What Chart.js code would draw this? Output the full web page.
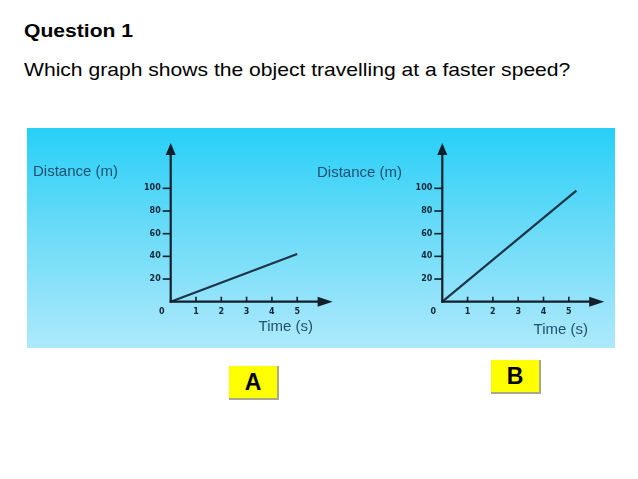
<!DOCTYPE html>
<html>
<head>
<meta charset="utf-8">
<script src="https://cdn.jsdelivr.net/npm/chart.js@4.4.0/dist/chart.umd.min.js"></script>
<style>
  body { margin: 0; width: 638px; height: 479px; background: #fff; position: relative; overflow: hidden;
         font-family: Arial, "Liberation Sans", sans-serif; }
  .txt { position: absolute; left: 24px; font-size: 18.5px; line-height: 20px; color: #000;
         white-space: nowrap; transform: scaleX(1.14); transform-origin: left top; }
  #q1 { top: 21px; font-weight: bold; }
  #q2 { top: 60px; }
  #panel { position: absolute; left: 27px; top: 128px; width: 588px; height: 220px;
           background: linear-gradient(to bottom, #27cff7 0%, #6fdcf8 50%, #aee9fb 100%); }
  #panel canvas { position: absolute; left: 0; top: 0; }
  .box { position: absolute; width: 48px; height: 32px; background: #ffff00;
         border-right: 2px solid #a9a98c; border-bottom: 2px solid #a9a98c;
         font-weight: bold; font-size: 23px; line-height: 32px; text-align: center; color: #000; }
</style>
</head>
<body>
<div class="txt" id="q1">Question 1</div>
<div class="txt" id="q2">Which graph shows the object travelling at a faster speed?</div>
<div id="panel">
  <div style="position:absolute;left:0;top:0;width:588px;height:220px"><canvas id="chartA"></canvas></div>
  <div style="position:absolute;left:0;top:0;width:588px;height:220px"><canvas id="chartB"></canvas></div>
</div>
<div class="box" style="left:229px;top:366px">A</div>
<div class="box" style="left:491px;top:360px">B</div>

<script>
const timeTicks = [1, 2, 3, 4, 5];
const distTicks = [20, 40, 60, 80, 100];
const timeA = [0, 5];
const distA = [0, 42];
const timeB = [0, 5.3];
const distB = [0, 98];
const xTitle = "Time (s)";
const yTitle = "Distance (m)";

const axisColor = "#121e2a";
const labelColor = "#24506f";

// draws the arrowed axes, ticks and titles off the chart's own scales
const axesPlugin = {
  id: "arrowAxes",
  afterDatasetsDraw(chart, args, opts) {
    const ctx = chart.ctx;
    const xs = chart.scales.x;
    const ys = chart.scales.y;
    const area = chart.chartArea;
    const x0 = xs.getPixelForValue(0);
    const y0 = ys.getPixelForValue(0);

    ctx.save();
    ctx.strokeStyle = axisColor;
    ctx.fillStyle = axisColor;
    ctx.lineWidth = 2.2;

    // y axis + arrow
    ctx.beginPath();
    ctx.moveTo(x0, y0 + 1);
    ctx.lineTo(x0, area.top + 8);
    ctx.stroke();
    ctx.beginPath();
    ctx.moveTo(x0, area.top);
    ctx.lineTo(x0 - 5, area.top + 12);
    ctx.lineTo(x0 + 5, area.top + 12);
    ctx.closePath();
    ctx.fill();

    // x axis + arrow
    ctx.beginPath();
    ctx.moveTo(x0 - 1, y0);
    ctx.lineTo(area.right - 10, y0);
    ctx.stroke();
    ctx.beginPath();
    ctx.moveTo(area.right, y0);
    ctx.lineTo(area.right - 15, y0 - 5);
    ctx.lineTo(area.right - 15, y0 + 5);
    ctx.closePath();
    ctx.fill();

    // ticks
    ctx.lineWidth = 1.6;
    ctx.font = "bold 8px 'DejaVu Sans', Arial";
    ctx.fillStyle = "#16263a";
    ctx.textBaseline = "middle";
    ctx.textAlign = "right";
    distTicks.forEach((v) => {
      const y = ys.getPixelForValue(v);
      ctx.beginPath();
      ctx.moveTo(x0 - 8, y);
      ctx.lineTo(x0, y);
      ctx.stroke();
      ctx.fillText(String(v), x0 - 10, y);
    });
    ctx.textAlign = "center";
    timeTicks.forEach((t) => {
      const x = xs.getPixelForValue(t);
      ctx.beginPath();
      ctx.moveTo(x, y0 - 5);
      ctx.lineTo(x, y0);
      ctx.stroke();
      ctx.fillText(String(t), x, y0 + 10);
    });
    ctx.fillText("0", x0 - 9, y0 + 10);

    // titles
    ctx.font = "15px Arial, 'Liberation Sans'";
    ctx.fillStyle = labelColor;
    ctx.textAlign = "left";
    ctx.fillText(yTitle, opts.yTitleX, opts.yTitleY);
    ctx.textAlign = "right";
    ctx.fillText(xTitle, opts.xTitleX, opts.xTitleY);
    ctx.restore();
  },
};

const makeChart = (id, times, dists, pad, titles) => {
  const ctx = document.getElementById(id);
  return new Chart(ctx, {
    type: "line",
    data: {
      datasets: [
        {
          data: times.map((t, i) => ({ x: t, y: dists[i] })),
          borderColor: "#1d3347",
          borderWidth: 2.2,
          pointRadius: 0,
          fill: false,
        },
      ],
    },
    options: {
      responsive: true,
      maintainAspectRatio: false,
      animation: false,
      events: [],
      layout: { padding: pad },
      plugins: {
        legend: { display: false },
        tooltip: { enabled: false },
        arrowAxes: titles,
      },
      scales: {
        x: { type: "linear", min: 0, max: 6.4, display: false },
        y: { type: "linear", min: 0, max: 140, display: false },
      },
    },
    plugins: [axesPlugin],
  });
};

makeChart("chartA", timeA, distA,
  { left: 143.7, right: 282.4, top: 15, bottom: 46.3 },
  { yTitleX: 6, yTitleY: 44, xTitleX: 286, xTitleY: 199 });
makeChart("chartB", timeB, distB,
  { left: 415.3, right: 10.8, top: 15, bottom: 46.3 },
  { yTitleX: 290, yTitleY: 45, xTitleX: 561, xTitleY: 202 });
</script>
</body>
</html>
